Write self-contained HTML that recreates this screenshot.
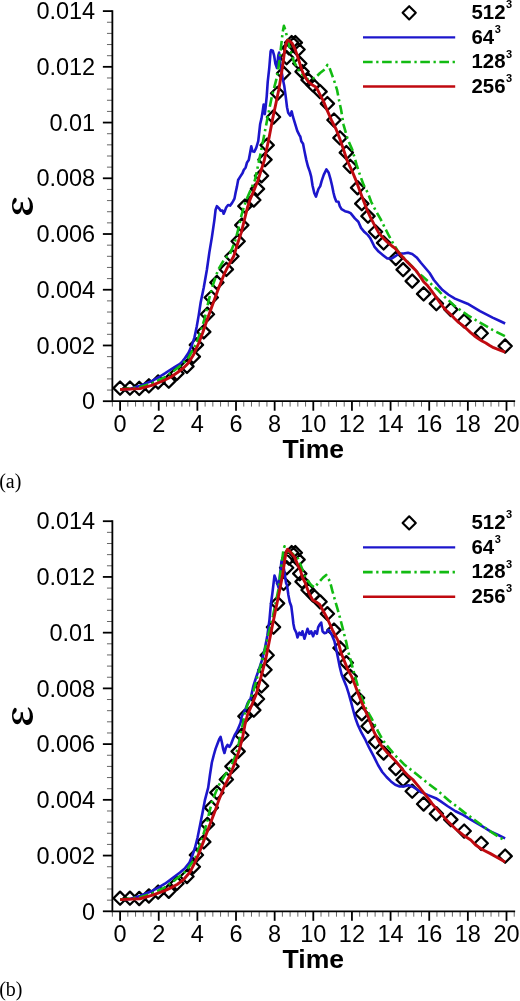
<!DOCTYPE html>
<html><head><meta charset="utf-8"><style>
html,body{margin:0;padding:0;background:#fff;}
body{width:520px;height:1001px;overflow:hidden;position:relative;}
svg{position:absolute;left:0;top:0;}
.tl{font-family:"Liberation Sans",Arial,sans-serif;font-size:23.5px;fill:#000;}
.ax{font-family:"Liberation Sans",Arial,sans-serif;font-size:26.6px;font-weight:bold;fill:#000;}
.lg{font-family:"Liberation Sans",Arial,sans-serif;font-size:20.4px;font-weight:bold;fill:#000;}
.sup{font-size:11px;}
.eps{font-family:"Noto Serif CJK SC","Liberation Serif",serif;font-size:39px;font-weight:bold;fill:#000;}
.pl{font-family:"Liberation Serif","DejaVu Serif",serif;font-size:20px;fill:#000;}
</style></head><body>
<svg width="520" height="1001" viewBox="0 0 520 1001">
<path d="M120.10,381.50L126.70,388.10L120.10,394.70L113.50,388.10ZM129.95,381.50L136.55,388.10L129.95,394.70L123.35,388.10ZM139.23,381.78L145.83,388.38L139.23,394.98L132.63,388.38ZM148.89,379.27L155.49,385.87L148.89,392.47L142.29,385.87ZM158.16,375.37L164.76,381.97L158.16,388.57L151.56,381.97ZM168.79,374.54L175.39,381.14L168.79,387.74L162.19,381.14ZM176.90,366.74L183.50,373.34L176.90,379.94L170.30,373.34ZM186.95,359.77L193.55,366.37L186.95,372.97L180.35,366.37ZM193.32,350.02L199.92,356.62L193.32,363.22L186.72,356.62ZM196.41,338.31L203.01,344.91L196.41,351.51L189.81,344.91ZM203.76,325.22L210.36,331.82L203.76,338.42L197.16,331.82ZM207.43,307.66L214.03,314.26L207.43,320.86L200.83,314.26ZM211.29,290.95L217.89,297.55L211.29,304.15L204.69,297.55ZM216.89,275.90L223.49,282.50L216.89,289.10L210.29,282.50ZM226.36,262.80L232.96,269.40L226.36,276.00L219.76,269.40ZM231.96,249.71L238.56,256.31L231.96,262.91L225.36,256.31ZM238.15,234.66L244.75,241.26L238.15,247.86L231.55,241.26ZM241.82,218.50L248.42,225.10L241.82,231.70L235.22,225.10ZM244.91,199.55L251.51,206.15L244.91,212.75L238.31,206.15ZM253.79,193.42L260.39,200.02L253.79,206.62L247.19,200.02ZM257.47,182.28L264.07,188.88L257.47,195.48L250.87,188.88ZM261.52,169.18L268.12,175.78L261.52,182.38L254.92,175.78ZM265.00,153.02L271.60,159.62L265.00,166.22L258.40,159.62ZM267.13,138.53L273.73,145.13L267.13,151.73L260.53,145.13ZM273.50,110.39L280.10,116.99L273.50,123.59L266.90,116.99ZM277.56,86.70L284.16,93.30L277.56,99.90L270.96,93.30ZM283.55,66.64L290.15,73.24L283.55,79.84L276.95,73.24ZM286.64,51.04L293.24,57.64L286.64,64.24L280.04,57.64ZM288.96,41.28L295.56,47.88L288.96,54.48L282.36,47.88ZM291.66,35.99L298.26,42.59L291.66,49.19L285.06,42.59ZM295.33,35.99L301.93,42.59L295.33,49.19L288.73,42.59ZM298.04,42.96L304.64,49.56L298.04,56.16L291.44,49.56ZM299.78,56.89L306.38,63.49L299.78,70.09L293.18,63.49ZM302.09,64.97L308.69,71.57L302.09,78.17L295.49,71.57ZM308.08,73.33L314.68,79.93L308.08,86.53L301.48,79.93ZM312.91,78.34L319.51,84.94L312.91,91.54L306.31,84.94ZM320.06,85.03L326.66,91.63L320.06,98.23L313.46,91.63ZM327.40,97.01L334.00,103.61L327.40,110.21L320.80,103.61ZM333.97,113.45L340.57,120.05L333.97,126.65L327.37,120.05ZM339.96,131.29L346.56,137.89L339.96,144.49L333.36,137.89ZM346.34,146.05L352.94,152.65L346.34,159.25L339.74,152.65ZM350.20,159.71L356.80,166.31L350.20,172.91L343.60,166.31ZM357.54,181.16L364.14,187.76L357.54,194.36L350.94,187.76ZM361.79,197.04L368.39,203.64L361.79,210.24L355.19,203.64ZM367.98,209.58L374.58,216.18L367.98,222.78L361.38,216.18ZM375.51,225.19L382.11,231.79L375.51,238.39L368.91,231.79ZM383.62,236.33L390.22,242.93L383.62,249.53L377.02,242.93ZM395.80,251.94L402.40,258.54L395.80,265.14L389.20,258.54ZM403.14,263.08L409.74,269.68L403.14,276.28L396.54,269.68ZM412.22,274.51L418.82,281.11L412.22,287.71L405.62,281.11ZM423.62,287.32L430.22,293.92L423.62,300.52L417.02,293.92ZM436.37,297.08L442.97,303.68L436.37,310.28L429.77,303.68ZM450.86,302.93L457.46,309.53L450.86,316.13L444.26,309.53ZM464.19,314.35L470.79,320.95L464.19,327.55L457.59,320.95ZM481.19,326.61L487.79,333.21L481.19,339.81L474.59,333.21ZM505.15,339.43L511.75,346.03L505.15,352.63L498.55,346.03Z" fill="none" stroke="#000" stroke-width="2.3" stroke-linejoin="round"/>
<polyline points="120.10,389.50 129.76,388.94 140.00,385.87 152.56,380.58 158.74,377.24 164.92,373.34 169.95,369.99 174.97,366.93 179.99,363.86 182.50,361.35 185.02,358.01 188.69,352.44 191.97,344.91 194.48,337.39 196.80,326.25 198.73,315.10 200.66,302.56 203.76,287.51 206.85,269.96 209.36,252.41 211.87,237.36 214.38,220.08 215.54,210.05 216.89,206.15 218.83,208.10 220.56,210.61 222.50,210.61 223.66,213.68 225.01,210.61 226.17,207.55 228.10,205.04 230.03,205.59 231.96,203.09 233.12,201.14 234.47,198.63 235.63,192.50 236.99,186.37 238.15,179.96 240.08,176.89 242.59,172.99 243.75,169.93 245.68,167.42 247.03,162.41 248.77,159.90 249.93,153.77 251.28,146.24 252.44,151.26 254.37,151.82 256.31,147.64 258.24,141.23 260.17,123.95 261.52,118.38 262.87,110.02 263.65,104.45 264.81,114.20 265.77,105.84 266.74,96.09 267.70,82.16 269.25,68.23 270.60,51.51 271.18,50.11 272.73,50.67 274.08,55.41 275.43,63.77 276.98,67.95 278.33,55.41 279.10,52.62 280.46,63.77 282.58,77.70 284.32,86.34 285.67,96.09 287.02,107.23 288.18,112.81 290.12,115.59 291.66,111.41 293.01,116.99 295.14,123.95 297.26,130.92 299.39,135.10 300.36,136.77 301.32,141.23 303.06,143.74 304.22,149.87 306.15,159.34 307.89,166.31 309.82,171.60 311.17,176.62 312.53,185.53 314.27,193.06 316.00,196.68 317.36,192.22 318.52,188.88 320.26,186.09 321.61,181.07 323.73,174.94 326.44,169.37 328.56,172.44 330.30,178.29 332.04,185.53 333.39,192.22 334.55,196.96 336.29,201.42 338.42,201.69 339.77,206.15 341.51,209.22 344.98,211.17 348.08,212.00 350.59,213.12 354.84,218.41 358.32,221.76 361.02,227.89 364.50,232.07 367.98,235.13 370.10,237.92 374.35,246.55 378.60,251.57 383.05,255.19 387.30,258.54 391.55,258.54 395.02,256.31 399.27,253.52 403.72,253.52 407.97,252.68 412.22,254.08 416.66,257.42 420.91,262.72 425.36,268.01 429.61,273.03 433.86,279.99 438.30,285.29 442.55,290.02 448.54,294.76 454.92,298.66 467.47,303.68 480.03,311.20 492.59,317.61 499.93,320.95 505.15,323.46" fill="none" stroke="#1c16cc" stroke-width="2.6" stroke-linejoin="round"/>
<polyline points="120.10,389.50 139.42,387.27 151.98,383.37 163.96,377.79 172.46,371.94 181.34,364.98 188.69,357.45 196.22,343.80 201.24,329.87 204.91,317.61 208.78,300.05 212.45,286.40 218.05,269.96 223.85,259.93 230.03,253.80 235.05,241.26 238.72,227.61 241.24,216.18 243.75,207.55 246.26,200.02 254.95,179.96 259.40,159.06 263.65,137.89 267.70,116.99 271.96,96.09 276.21,79.93 278.14,69.90 279.49,60.14 280.65,50.11 281.81,40.08 282.58,32.56 283.93,25.87 285.67,31.17 287.22,37.57 290.12,50.11 293.79,61.26 299.97,72.40 307.50,79.37 315.04,77.98 320.06,72.96 325.09,69.06 327.40,64.88 329.53,67.95 332.04,74.91 334.94,82.99 337.06,89.96 339.00,99.99 341.12,110.02 343.63,125.07 347.50,138.72 352.33,149.87 356.58,164.63 360.05,175.22 363.53,184.70 367.98,193.33 371.26,201.97 375.70,210.61 380.34,218.69 384.78,227.61 389.03,235.97 393.48,244.05 397.34,250.18 402.17,256.31 407.97,262.16 413.76,268.29 418.59,273.58 422.65,276.37 431.35,284.17 438.30,290.30 442.55,295.04 448.54,300.33 454.92,306.18 467.47,315.10 480.03,322.62 492.59,329.87 505.15,336.28" fill="none" stroke="#12bb12" stroke-width="2.6" stroke-dasharray="9.6,3.6,2.3,3.6" stroke-linejoin="round"/>
<polyline points="120.10,389.50 140.00,388.66 152.56,385.04 164.92,380.02 171.30,376.68 177.48,372.50 183.66,367.76 187.53,363.86 190.62,359.40 193.71,354.39 196.41,348.26 198.73,343.24 202.60,332.93 207.43,319.00 212.45,305.07 217.47,291.14 223.85,274.98 228.68,264.95 233.70,256.31 237.57,243.77 241.24,232.62 244.33,220.08 247.42,207.55 249.93,200.02 254.37,189.43 258.24,179.68 264.23,160.46 268.48,140.67 272.73,118.38 276.59,100.27 278.72,89.96 281.23,74.91 283.16,62.37 284.51,51.51 285.87,44.54 287.41,40.36 289.73,41.20 292.05,43.15 294.95,49.00 297.46,55.97 299.97,64.05 302.48,71.85 304.22,75.47 308.08,81.60 311.95,84.66 315.81,86.89 318.13,90.80 320.45,95.53 323.54,101.38 326.44,108.63 331.46,120.05 336.10,129.25 339.96,139.28 343.83,150.42 347.11,160.46 352.33,171.60 356.58,181.91 360.05,191.38 363.53,200.86 367.01,209.77 370.49,217.30 374.35,224.82 378.60,232.62 383.05,237.92 387.30,242.10 391.55,245.72 395.02,248.23 399.27,253.24 403.72,258.26 407.97,262.72 412.22,266.90 415.89,270.52 419.95,276.09 423.42,281.38 427.67,285.84 431.54,290.86 435.40,296.15 439.27,301.73 443.13,307.02 446.99,311.20 450.86,314.54 454.53,318.44 458.59,322.34 462.64,325.41 466.51,328.75 470.37,332.38 474.24,335.72 478.10,338.51 481.96,341.01 485.83,342.96 489.69,345.47 493.56,347.70 499.93,350.21 505.15,352.16" fill="none" stroke="#c00a10" stroke-width="2.9" stroke-linejoin="round"/>
<line x1="102.87" y1="401.20" x2="112.37" y2="401.20" stroke="#000" stroke-width="1.8"/>
<line x1="106.97" y1="390.05" x2="112.37" y2="390.05" stroke="#555" stroke-width="0.9"/>
<line x1="106.97" y1="378.91" x2="112.37" y2="378.91" stroke="#555" stroke-width="0.9"/>
<line x1="106.97" y1="367.76" x2="112.37" y2="367.76" stroke="#555" stroke-width="0.9"/>
<line x1="106.97" y1="356.62" x2="112.37" y2="356.62" stroke="#555" stroke-width="0.9"/>
<line x1="102.87" y1="345.47" x2="112.37" y2="345.47" stroke="#000" stroke-width="1.8"/>
<line x1="106.97" y1="334.33" x2="112.37" y2="334.33" stroke="#555" stroke-width="0.9"/>
<line x1="106.97" y1="323.18" x2="112.37" y2="323.18" stroke="#555" stroke-width="0.9"/>
<line x1="106.97" y1="312.04" x2="112.37" y2="312.04" stroke="#555" stroke-width="0.9"/>
<line x1="106.97" y1="300.89" x2="112.37" y2="300.89" stroke="#555" stroke-width="0.9"/>
<line x1="102.87" y1="289.74" x2="112.37" y2="289.74" stroke="#000" stroke-width="1.8"/>
<line x1="106.97" y1="278.60" x2="112.37" y2="278.60" stroke="#555" stroke-width="0.9"/>
<line x1="106.97" y1="267.45" x2="112.37" y2="267.45" stroke="#555" stroke-width="0.9"/>
<line x1="106.97" y1="256.31" x2="112.37" y2="256.31" stroke="#555" stroke-width="0.9"/>
<line x1="106.97" y1="245.16" x2="112.37" y2="245.16" stroke="#555" stroke-width="0.9"/>
<line x1="102.87" y1="234.02" x2="112.37" y2="234.02" stroke="#000" stroke-width="1.8"/>
<line x1="106.97" y1="222.87" x2="112.37" y2="222.87" stroke="#555" stroke-width="0.9"/>
<line x1="106.97" y1="211.72" x2="112.37" y2="211.72" stroke="#555" stroke-width="0.9"/>
<line x1="106.97" y1="200.58" x2="112.37" y2="200.58" stroke="#555" stroke-width="0.9"/>
<line x1="106.97" y1="189.43" x2="112.37" y2="189.43" stroke="#555" stroke-width="0.9"/>
<line x1="102.87" y1="178.29" x2="112.37" y2="178.29" stroke="#000" stroke-width="1.8"/>
<line x1="106.97" y1="167.14" x2="112.37" y2="167.14" stroke="#555" stroke-width="0.9"/>
<line x1="106.97" y1="156.00" x2="112.37" y2="156.00" stroke="#555" stroke-width="0.9"/>
<line x1="106.97" y1="144.85" x2="112.37" y2="144.85" stroke="#555" stroke-width="0.9"/>
<line x1="106.97" y1="133.71" x2="112.37" y2="133.71" stroke="#555" stroke-width="0.9"/>
<line x1="102.87" y1="122.56" x2="112.37" y2="122.56" stroke="#000" stroke-width="1.8"/>
<line x1="106.97" y1="111.41" x2="112.37" y2="111.41" stroke="#555" stroke-width="0.9"/>
<line x1="106.97" y1="100.27" x2="112.37" y2="100.27" stroke="#555" stroke-width="0.9"/>
<line x1="106.97" y1="89.12" x2="112.37" y2="89.12" stroke="#555" stroke-width="0.9"/>
<line x1="106.97" y1="77.98" x2="112.37" y2="77.98" stroke="#555" stroke-width="0.9"/>
<line x1="102.87" y1="66.83" x2="112.37" y2="66.83" stroke="#000" stroke-width="1.8"/>
<line x1="106.97" y1="55.69" x2="112.37" y2="55.69" stroke="#555" stroke-width="0.9"/>
<line x1="106.97" y1="44.54" x2="112.37" y2="44.54" stroke="#555" stroke-width="0.9"/>
<line x1="106.97" y1="33.40" x2="112.37" y2="33.40" stroke="#555" stroke-width="0.9"/>
<line x1="106.97" y1="22.25" x2="112.37" y2="22.25" stroke="#555" stroke-width="0.9"/>
<line x1="102.87" y1="11.10" x2="112.37" y2="11.10" stroke="#000" stroke-width="1.8"/>
<line x1="112.37" y1="401.20" x2="112.37" y2="406.60" stroke="#555" stroke-width="0.9"/>
<line x1="120.10" y1="401.20" x2="120.10" y2="410.70" stroke="#000" stroke-width="1.8"/>
<line x1="127.83" y1="401.20" x2="127.83" y2="406.60" stroke="#555" stroke-width="0.9"/>
<line x1="135.56" y1="401.20" x2="135.56" y2="406.60" stroke="#555" stroke-width="0.9"/>
<line x1="143.28" y1="401.20" x2="143.28" y2="406.60" stroke="#555" stroke-width="0.9"/>
<line x1="151.01" y1="401.20" x2="151.01" y2="406.60" stroke="#555" stroke-width="0.9"/>
<line x1="158.74" y1="401.20" x2="158.74" y2="410.70" stroke="#000" stroke-width="1.8"/>
<line x1="166.47" y1="401.20" x2="166.47" y2="406.60" stroke="#555" stroke-width="0.9"/>
<line x1="174.20" y1="401.20" x2="174.20" y2="406.60" stroke="#555" stroke-width="0.9"/>
<line x1="181.92" y1="401.20" x2="181.92" y2="406.60" stroke="#555" stroke-width="0.9"/>
<line x1="189.65" y1="401.20" x2="189.65" y2="406.60" stroke="#555" stroke-width="0.9"/>
<line x1="197.38" y1="401.20" x2="197.38" y2="410.70" stroke="#000" stroke-width="1.8"/>
<line x1="205.11" y1="401.20" x2="205.11" y2="406.60" stroke="#555" stroke-width="0.9"/>
<line x1="212.84" y1="401.20" x2="212.84" y2="406.60" stroke="#555" stroke-width="0.9"/>
<line x1="220.56" y1="401.20" x2="220.56" y2="406.60" stroke="#555" stroke-width="0.9"/>
<line x1="228.29" y1="401.20" x2="228.29" y2="406.60" stroke="#555" stroke-width="0.9"/>
<line x1="236.02" y1="401.20" x2="236.02" y2="410.70" stroke="#000" stroke-width="1.8"/>
<line x1="243.75" y1="401.20" x2="243.75" y2="406.60" stroke="#555" stroke-width="0.9"/>
<line x1="251.48" y1="401.20" x2="251.48" y2="406.60" stroke="#555" stroke-width="0.9"/>
<line x1="259.20" y1="401.20" x2="259.20" y2="406.60" stroke="#555" stroke-width="0.9"/>
<line x1="266.93" y1="401.20" x2="266.93" y2="406.60" stroke="#555" stroke-width="0.9"/>
<line x1="274.66" y1="401.20" x2="274.66" y2="410.70" stroke="#000" stroke-width="1.8"/>
<line x1="282.39" y1="401.20" x2="282.39" y2="406.60" stroke="#555" stroke-width="0.9"/>
<line x1="290.12" y1="401.20" x2="290.12" y2="406.60" stroke="#555" stroke-width="0.9"/>
<line x1="297.84" y1="401.20" x2="297.84" y2="406.60" stroke="#555" stroke-width="0.9"/>
<line x1="305.57" y1="401.20" x2="305.57" y2="406.60" stroke="#555" stroke-width="0.9"/>
<line x1="313.30" y1="401.20" x2="313.30" y2="410.70" stroke="#000" stroke-width="1.8"/>
<line x1="321.03" y1="401.20" x2="321.03" y2="406.60" stroke="#555" stroke-width="0.9"/>
<line x1="328.76" y1="401.20" x2="328.76" y2="406.60" stroke="#555" stroke-width="0.9"/>
<line x1="336.48" y1="401.20" x2="336.48" y2="406.60" stroke="#555" stroke-width="0.9"/>
<line x1="344.21" y1="401.20" x2="344.21" y2="406.60" stroke="#555" stroke-width="0.9"/>
<line x1="351.94" y1="401.20" x2="351.94" y2="410.70" stroke="#000" stroke-width="1.8"/>
<line x1="359.67" y1="401.20" x2="359.67" y2="406.60" stroke="#555" stroke-width="0.9"/>
<line x1="367.40" y1="401.20" x2="367.40" y2="406.60" stroke="#555" stroke-width="0.9"/>
<line x1="375.12" y1="401.20" x2="375.12" y2="406.60" stroke="#555" stroke-width="0.9"/>
<line x1="382.85" y1="401.20" x2="382.85" y2="406.60" stroke="#555" stroke-width="0.9"/>
<line x1="390.58" y1="401.20" x2="390.58" y2="410.70" stroke="#000" stroke-width="1.8"/>
<line x1="398.31" y1="401.20" x2="398.31" y2="406.60" stroke="#555" stroke-width="0.9"/>
<line x1="406.04" y1="401.20" x2="406.04" y2="406.60" stroke="#555" stroke-width="0.9"/>
<line x1="413.76" y1="401.20" x2="413.76" y2="406.60" stroke="#555" stroke-width="0.9"/>
<line x1="421.49" y1="401.20" x2="421.49" y2="406.60" stroke="#555" stroke-width="0.9"/>
<line x1="429.22" y1="401.20" x2="429.22" y2="410.70" stroke="#000" stroke-width="1.8"/>
<line x1="436.95" y1="401.20" x2="436.95" y2="406.60" stroke="#555" stroke-width="0.9"/>
<line x1="444.68" y1="401.20" x2="444.68" y2="406.60" stroke="#555" stroke-width="0.9"/>
<line x1="452.40" y1="401.20" x2="452.40" y2="406.60" stroke="#555" stroke-width="0.9"/>
<line x1="460.13" y1="401.20" x2="460.13" y2="406.60" stroke="#555" stroke-width="0.9"/>
<line x1="467.86" y1="401.20" x2="467.86" y2="410.70" stroke="#000" stroke-width="1.8"/>
<line x1="475.59" y1="401.20" x2="475.59" y2="406.60" stroke="#555" stroke-width="0.9"/>
<line x1="483.32" y1="401.20" x2="483.32" y2="406.60" stroke="#555" stroke-width="0.9"/>
<line x1="491.04" y1="401.20" x2="491.04" y2="406.60" stroke="#555" stroke-width="0.9"/>
<line x1="498.77" y1="401.20" x2="498.77" y2="406.60" stroke="#555" stroke-width="0.9"/>
<line x1="506.50" y1="401.20" x2="506.50" y2="410.70" stroke="#000" stroke-width="1.8"/>
<line x1="514.23" y1="401.20" x2="514.23" y2="406.60" stroke="#555" stroke-width="0.9"/>
<path d="M112.37,11.10V401.20H514.23" fill="none" stroke="#000" stroke-width="1.8" stroke-linecap="square"/>
<text x="95.2" y="409.40" class="tl" text-anchor="end">0</text>
<text x="95.2" y="353.67" class="tl" text-anchor="end">0.002</text>
<text x="95.2" y="297.94" class="tl" text-anchor="end">0.004</text>
<text x="95.2" y="242.22" class="tl" text-anchor="end">0.006</text>
<text x="95.2" y="186.49" class="tl" text-anchor="end">0.008</text>
<text x="95.2" y="130.76" class="tl" text-anchor="end">0.01</text>
<text x="95.2" y="75.03" class="tl" text-anchor="end">0.012</text>
<text x="95.2" y="19.30" class="tl" text-anchor="end">0.014</text>
<text x="120.10" y="431.80" class="tl" text-anchor="middle">0</text>
<text x="158.74" y="431.80" class="tl" text-anchor="middle">2</text>
<text x="197.38" y="431.80" class="tl" text-anchor="middle">4</text>
<text x="236.02" y="431.80" class="tl" text-anchor="middle">6</text>
<text x="274.66" y="431.80" class="tl" text-anchor="middle">8</text>
<text x="313.30" y="431.80" class="tl" text-anchor="middle">10</text>
<text x="351.94" y="431.80" class="tl" text-anchor="middle">12</text>
<text x="390.58" y="431.80" class="tl" text-anchor="middle">14</text>
<text x="429.22" y="431.80" class="tl" text-anchor="middle">16</text>
<text x="467.86" y="431.80" class="tl" text-anchor="middle">18</text>
<text x="506.50" y="431.80" class="tl" text-anchor="middle">20</text>
<text x="313.3" y="457.60" class="ax" text-anchor="middle">Time</text>
<text x="0" y="0" class="eps" text-anchor="middle" transform="translate(32.6,206.25) rotate(-90)">&#949;</text>
<text x="471.5" y="18.75" class="lg">512<tspan class="sup" dx="0.5" dy="-10.5">3</tspan></text>
<text x="471.5" y="43.60" class="lg">64<tspan class="sup" dx="0.5" dy="-10.5">3</tspan></text>
<text x="471.5" y="68.10" class="lg">128<tspan class="sup" dx="0.5" dy="-10.5">3</tspan></text>
<text x="471.5" y="92.60" class="lg">256<tspan class="sup" dx="0.5" dy="-10.5">3</tspan></text>
<path d="M409.20,6.20L415.80,12.80L409.20,19.40L402.60,12.80Z" fill="none" stroke="#000" stroke-width="2.1" stroke-linejoin="round"/>
<line x1="363" y1="37.30" x2="455.2" y2="37.30" stroke="#1c16cc" stroke-width="2.3"/>
<line x1="363" y1="62.00" x2="455.2" y2="62.00" stroke="#12bb12" stroke-width="2.6" stroke-dasharray="9.6,3.6,2.3,3.6"/>
<line x1="363" y1="86.60" x2="455.2" y2="86.60" stroke="#c00a10" stroke-width="2.5"/>
<path d="M120.10,891.60L126.70,898.20L120.10,904.80L113.50,898.20ZM129.95,891.60L136.55,898.20L129.95,904.80L123.35,898.20ZM139.23,891.88L145.83,898.48L139.23,905.08L132.63,898.48ZM148.89,889.37L155.49,895.97L148.89,902.57L142.29,895.97ZM158.16,885.47L164.76,892.07L158.16,898.67L151.56,892.07ZM168.79,884.64L175.39,891.24L168.79,897.84L162.19,891.24ZM176.90,876.84L183.50,883.44L176.90,890.04L170.30,883.44ZM186.95,869.87L193.55,876.47L186.95,883.07L180.35,876.47ZM193.32,860.12L199.92,866.72L193.32,873.32L186.72,866.72ZM196.41,848.41L203.01,855.01L196.41,861.61L189.81,855.01ZM203.76,835.32L210.36,841.92L203.76,848.52L197.16,841.92ZM207.43,817.76L214.03,824.36L207.43,830.96L200.83,824.36ZM211.29,801.05L217.89,807.65L211.29,814.25L204.69,807.65ZM216.89,786.00L223.49,792.60L216.89,799.20L210.29,792.60ZM226.36,772.90L232.96,779.50L226.36,786.10L219.76,779.50ZM231.96,759.81L238.56,766.41L231.96,773.01L225.36,766.41ZM238.15,744.76L244.75,751.36L238.15,757.96L231.55,751.36ZM241.82,728.60L248.42,735.20L241.82,741.80L235.22,735.20ZM244.91,709.65L251.51,716.25L244.91,722.85L238.31,716.25ZM253.79,703.52L260.39,710.12L253.79,716.72L247.19,710.12ZM257.47,692.38L264.07,698.98L257.47,705.58L250.87,698.98ZM261.52,679.28L268.12,685.88L261.52,692.48L254.92,685.88ZM265.00,663.12L271.60,669.72L265.00,676.32L258.40,669.72ZM267.13,648.63L273.73,655.23L267.13,661.83L260.53,655.23ZM273.50,620.49L280.10,627.09L273.50,633.69L266.90,627.09ZM277.56,596.80L284.16,603.40L277.56,610.00L270.96,603.40ZM283.55,576.74L290.15,583.34L283.55,589.94L276.95,583.34ZM286.64,561.14L293.24,567.74L286.64,574.34L280.04,567.74ZM288.96,551.38L295.56,557.98L288.96,564.58L282.36,557.98ZM291.66,546.09L298.26,552.69L291.66,559.29L285.06,552.69ZM295.33,546.09L301.93,552.69L295.33,559.29L288.73,552.69ZM298.04,553.06L304.64,559.66L298.04,566.26L291.44,559.66ZM299.78,566.99L306.38,573.59L299.78,580.19L293.18,573.59ZM302.09,575.07L308.69,581.67L302.09,588.27L295.49,581.67ZM308.08,583.43L314.68,590.03L308.08,596.63L301.48,590.03ZM312.91,588.44L319.51,595.04L312.91,601.64L306.31,595.04ZM320.06,595.13L326.66,601.73L320.06,608.33L313.46,601.73ZM327.40,607.11L334.00,613.71L327.40,620.31L320.80,613.71ZM333.97,623.55L340.57,630.15L333.97,636.75L327.37,630.15ZM339.96,641.39L346.56,647.99L339.96,654.59L333.36,647.99ZM346.34,656.15L352.94,662.75L346.34,669.35L339.74,662.75ZM350.20,669.81L356.80,676.41L350.20,683.01L343.60,676.41ZM357.54,691.26L364.14,697.86L357.54,704.46L350.94,697.86ZM361.79,707.14L368.39,713.74L361.79,720.34L355.19,713.74ZM367.98,719.68L374.58,726.28L367.98,732.88L361.38,726.28ZM375.51,735.29L382.11,741.89L375.51,748.49L368.91,741.89ZM383.62,746.43L390.22,753.03L383.62,759.63L377.02,753.03ZM395.80,762.04L402.40,768.64L395.80,775.24L389.20,768.64ZM403.14,773.18L409.74,779.78L403.14,786.38L396.54,779.78ZM412.22,784.61L418.82,791.21L412.22,797.81L405.62,791.21ZM423.62,797.42L430.22,804.02L423.62,810.62L417.02,804.02ZM436.37,807.18L442.97,813.78L436.37,820.38L429.77,813.78ZM450.86,813.03L457.46,819.63L450.86,826.23L444.26,819.63ZM464.19,824.45L470.79,831.05L464.19,837.65L457.59,831.05ZM481.19,836.71L487.79,843.31L481.19,849.91L474.59,843.31ZM505.15,849.53L511.75,856.13L505.15,862.73L498.55,856.13Z" fill="none" stroke="#000" stroke-width="2.3" stroke-linejoin="round"/>
<polyline points="120.10,899.60 129.76,899.04 140.00,895.97 152.56,890.68 158.74,887.34 164.92,883.71 169.95,880.09 174.97,876.19 179.99,872.57 185.02,868.11 189.46,862.54 192.55,855.01 195.06,847.49 197.57,837.46 200.08,824.92 202.60,812.38 204.91,800.12 208.20,787.58 209.94,775.05 211.87,762.51 213.80,754.98 215.54,748.85 217.47,743.84 219.40,738.82 220.56,736.87 221.92,742.44 223.08,748.85 224.43,753.03 225.97,747.46 227.52,744.95 229.45,746.90 231.19,743.84 233.12,738.82 235.05,734.36 236.99,731.30 238.72,727.40 240.66,722.38 241.82,716.25 243.75,712.63 245.68,708.73 247.42,703.71 249.35,700.09 250.51,698.98 253.41,685.88 256.11,677.52 259.01,669.16 261.72,660.80 264.61,649.66 267.32,635.73 269.44,620.12 270.80,604.80 272.34,593.65 274.47,575.54 276.59,581.11 278.72,588.08 280.07,574.15 281.42,561.61 282.39,558.54 284.32,571.36 286.06,583.06 287.02,585.29 288.38,595.04 289.73,602.01 291.28,606.19 292.43,615.11 293.40,623.74 294.37,628.76 296.30,632.66 297.46,637.40 299.39,632.66 301.32,634.89 302.48,631.27 304.41,638.79 306.34,632.66 307.50,628.76 309.44,633.77 311.17,631.27 313.11,636.28 315.04,631.27 316.97,633.77 318.13,627.37 319.29,625.14 321.22,622.63 322.57,631.27 324.31,633.22 326.24,632.66 328.18,629.87 329.92,631.27 331.85,634.89 333.20,638.23 334.36,641.02 336.10,648.82 337.84,657.18 339.58,666.10 341.70,674.73 344.41,681.42 346.34,686.16 348.66,693.40 351.17,702.32 353.49,711.24 355.42,718.20 357.74,724.61 361.60,732.97 365.46,739.94 369.13,747.74 373.77,756.38 378.02,765.01 382.27,771.98 386.52,777.00 390.97,781.45 395.22,784.80 399.66,786.47 403.91,786.47 408.35,785.35 412.80,786.75 420.33,791.76 428.06,795.11 435.79,798.17 440.04,800.96 447.77,806.25 455.50,811.27 463.03,814.89 470.76,819.63 478.49,824.09 482.74,826.59 490.46,831.33 498.19,834.95 505.15,838.30" fill="none" stroke="#1c16cc" stroke-width="2.6" stroke-linejoin="round"/>
<polyline points="120.10,899.60 139.42,897.37 151.98,893.47 163.96,887.89 174.97,880.09 185.02,872.01 195.06,858.64 201.24,841.36 206.27,824.92 209.94,809.88 212.45,800.12 218.83,785.08 225.01,775.05 231.19,766.13 236.21,753.87 238.72,743.84 241.24,731.30 243.17,722.38 244.91,712.63 247.42,705.11 253.41,691.17 257.27,677.24 263.26,656.34 272.92,615.94 278.72,588.08 280.26,573.59 281.42,566.90 282.00,561.05 283.35,550.46 284.51,546.28 286.25,550.46 292.05,553.25 298.42,559.10 304.99,576.37 308.08,581.11 311.17,585.01 314.46,587.52 318.71,582.50 323.15,577.49 326.24,574.98 329.92,581.39 332.43,591.14 334.94,600.06 337.45,608.70 339.96,617.61 342.47,627.37 344.98,637.40 346.34,642.41 348.08,651.33 349.81,657.18 354.26,673.62 359.47,692.01 366.24,709.29 371.45,718.20 374.54,724.33 378.02,731.30 382.27,739.10 386.52,745.23 390.97,750.25 395.22,755.54 399.66,759.72 403.91,764.18 409.13,768.36 412.80,771.14 420.33,777.27 428.06,783.40 435.79,789.26 442.74,795.11 449.12,800.68 456.85,806.53 464.19,812.38 471.92,817.96 475.59,820.74 486.60,828.82 498.19,836.62 505.15,840.53" fill="none" stroke="#12bb12" stroke-width="2.6" stroke-dasharray="9.6,3.6,2.3,3.6" stroke-linejoin="round"/>
<polyline points="120.10,899.60 140.00,898.76 152.56,895.14 164.92,890.68 171.30,887.62 177.48,884.27 183.66,879.54 189.85,872.29 194.87,862.54 198.73,853.90 202.60,843.87 208.78,827.43 214.96,811.27 218.83,800.12 223.85,787.58 230.03,775.05 235.05,762.51 239.30,749.97 242.59,737.43 244.91,724.89 247.42,715.14 251.28,706.22 256.31,693.96 260.17,680.03 265.97,658.02 272.92,622.91 278.72,595.04 282.77,574.15 284.90,559.10 286.25,551.85 287.41,549.35 290.70,552.41 294.56,557.15 298.42,566.62 300.36,569.97 302.29,577.21 304.99,582.23 308.86,593.09 312.72,600.06 316.58,602.29 319.68,604.52 323.54,611.48 327.40,618.73 332.43,629.87 337.84,640.46 341.12,653.00 344.60,661.64 348.08,670.28 351.55,676.41 355.03,685.04 358.51,694.52 361.99,703.16 365.46,710.96 368.94,718.76 373.77,731.30 378.02,739.94 382.27,746.90 386.52,751.92 390.97,756.38 395.22,760.83 399.66,765.85 403.91,771.14 408.35,775.88 412.80,779.50 420.33,788.70 428.06,798.17 431.92,803.47 440.04,812.66 447.77,821.30 455.50,828.82 463.03,834.95 470.76,839.97 475.59,844.98 482.74,849.72 490.46,853.62 498.19,858.08 505.15,861.98" fill="none" stroke="#c00a10" stroke-width="2.9" stroke-linejoin="round"/>
<line x1="102.87" y1="911.30" x2="112.37" y2="911.30" stroke="#000" stroke-width="1.8"/>
<line x1="106.97" y1="900.15" x2="112.37" y2="900.15" stroke="#555" stroke-width="0.9"/>
<line x1="106.97" y1="889.01" x2="112.37" y2="889.01" stroke="#555" stroke-width="0.9"/>
<line x1="106.97" y1="877.86" x2="112.37" y2="877.86" stroke="#555" stroke-width="0.9"/>
<line x1="106.97" y1="866.72" x2="112.37" y2="866.72" stroke="#555" stroke-width="0.9"/>
<line x1="102.87" y1="855.57" x2="112.37" y2="855.57" stroke="#000" stroke-width="1.8"/>
<line x1="106.97" y1="844.43" x2="112.37" y2="844.43" stroke="#555" stroke-width="0.9"/>
<line x1="106.97" y1="833.28" x2="112.37" y2="833.28" stroke="#555" stroke-width="0.9"/>
<line x1="106.97" y1="822.14" x2="112.37" y2="822.14" stroke="#555" stroke-width="0.9"/>
<line x1="106.97" y1="810.99" x2="112.37" y2="810.99" stroke="#555" stroke-width="0.9"/>
<line x1="102.87" y1="799.84" x2="112.37" y2="799.84" stroke="#000" stroke-width="1.8"/>
<line x1="106.97" y1="788.70" x2="112.37" y2="788.70" stroke="#555" stroke-width="0.9"/>
<line x1="106.97" y1="777.55" x2="112.37" y2="777.55" stroke="#555" stroke-width="0.9"/>
<line x1="106.97" y1="766.41" x2="112.37" y2="766.41" stroke="#555" stroke-width="0.9"/>
<line x1="106.97" y1="755.26" x2="112.37" y2="755.26" stroke="#555" stroke-width="0.9"/>
<line x1="102.87" y1="744.12" x2="112.37" y2="744.12" stroke="#000" stroke-width="1.8"/>
<line x1="106.97" y1="732.97" x2="112.37" y2="732.97" stroke="#555" stroke-width="0.9"/>
<line x1="106.97" y1="721.82" x2="112.37" y2="721.82" stroke="#555" stroke-width="0.9"/>
<line x1="106.97" y1="710.68" x2="112.37" y2="710.68" stroke="#555" stroke-width="0.9"/>
<line x1="106.97" y1="699.53" x2="112.37" y2="699.53" stroke="#555" stroke-width="0.9"/>
<line x1="102.87" y1="688.39" x2="112.37" y2="688.39" stroke="#000" stroke-width="1.8"/>
<line x1="106.97" y1="677.24" x2="112.37" y2="677.24" stroke="#555" stroke-width="0.9"/>
<line x1="106.97" y1="666.10" x2="112.37" y2="666.10" stroke="#555" stroke-width="0.9"/>
<line x1="106.97" y1="654.95" x2="112.37" y2="654.95" stroke="#555" stroke-width="0.9"/>
<line x1="106.97" y1="643.81" x2="112.37" y2="643.81" stroke="#555" stroke-width="0.9"/>
<line x1="102.87" y1="632.66" x2="112.37" y2="632.66" stroke="#000" stroke-width="1.8"/>
<line x1="106.97" y1="621.51" x2="112.37" y2="621.51" stroke="#555" stroke-width="0.9"/>
<line x1="106.97" y1="610.37" x2="112.37" y2="610.37" stroke="#555" stroke-width="0.9"/>
<line x1="106.97" y1="599.22" x2="112.37" y2="599.22" stroke="#555" stroke-width="0.9"/>
<line x1="106.97" y1="588.08" x2="112.37" y2="588.08" stroke="#555" stroke-width="0.9"/>
<line x1="102.87" y1="576.93" x2="112.37" y2="576.93" stroke="#000" stroke-width="1.8"/>
<line x1="106.97" y1="565.79" x2="112.37" y2="565.79" stroke="#555" stroke-width="0.9"/>
<line x1="106.97" y1="554.64" x2="112.37" y2="554.64" stroke="#555" stroke-width="0.9"/>
<line x1="106.97" y1="543.50" x2="112.37" y2="543.50" stroke="#555" stroke-width="0.9"/>
<line x1="106.97" y1="532.35" x2="112.37" y2="532.35" stroke="#555" stroke-width="0.9"/>
<line x1="102.87" y1="521.20" x2="112.37" y2="521.20" stroke="#000" stroke-width="1.8"/>
<line x1="112.37" y1="911.30" x2="112.37" y2="916.70" stroke="#555" stroke-width="0.9"/>
<line x1="120.10" y1="911.30" x2="120.10" y2="920.80" stroke="#000" stroke-width="1.8"/>
<line x1="127.83" y1="911.30" x2="127.83" y2="916.70" stroke="#555" stroke-width="0.9"/>
<line x1="135.56" y1="911.30" x2="135.56" y2="916.70" stroke="#555" stroke-width="0.9"/>
<line x1="143.28" y1="911.30" x2="143.28" y2="916.70" stroke="#555" stroke-width="0.9"/>
<line x1="151.01" y1="911.30" x2="151.01" y2="916.70" stroke="#555" stroke-width="0.9"/>
<line x1="158.74" y1="911.30" x2="158.74" y2="920.80" stroke="#000" stroke-width="1.8"/>
<line x1="166.47" y1="911.30" x2="166.47" y2="916.70" stroke="#555" stroke-width="0.9"/>
<line x1="174.20" y1="911.30" x2="174.20" y2="916.70" stroke="#555" stroke-width="0.9"/>
<line x1="181.92" y1="911.30" x2="181.92" y2="916.70" stroke="#555" stroke-width="0.9"/>
<line x1="189.65" y1="911.30" x2="189.65" y2="916.70" stroke="#555" stroke-width="0.9"/>
<line x1="197.38" y1="911.30" x2="197.38" y2="920.80" stroke="#000" stroke-width="1.8"/>
<line x1="205.11" y1="911.30" x2="205.11" y2="916.70" stroke="#555" stroke-width="0.9"/>
<line x1="212.84" y1="911.30" x2="212.84" y2="916.70" stroke="#555" stroke-width="0.9"/>
<line x1="220.56" y1="911.30" x2="220.56" y2="916.70" stroke="#555" stroke-width="0.9"/>
<line x1="228.29" y1="911.30" x2="228.29" y2="916.70" stroke="#555" stroke-width="0.9"/>
<line x1="236.02" y1="911.30" x2="236.02" y2="920.80" stroke="#000" stroke-width="1.8"/>
<line x1="243.75" y1="911.30" x2="243.75" y2="916.70" stroke="#555" stroke-width="0.9"/>
<line x1="251.48" y1="911.30" x2="251.48" y2="916.70" stroke="#555" stroke-width="0.9"/>
<line x1="259.20" y1="911.30" x2="259.20" y2="916.70" stroke="#555" stroke-width="0.9"/>
<line x1="266.93" y1="911.30" x2="266.93" y2="916.70" stroke="#555" stroke-width="0.9"/>
<line x1="274.66" y1="911.30" x2="274.66" y2="920.80" stroke="#000" stroke-width="1.8"/>
<line x1="282.39" y1="911.30" x2="282.39" y2="916.70" stroke="#555" stroke-width="0.9"/>
<line x1="290.12" y1="911.30" x2="290.12" y2="916.70" stroke="#555" stroke-width="0.9"/>
<line x1="297.84" y1="911.30" x2="297.84" y2="916.70" stroke="#555" stroke-width="0.9"/>
<line x1="305.57" y1="911.30" x2="305.57" y2="916.70" stroke="#555" stroke-width="0.9"/>
<line x1="313.30" y1="911.30" x2="313.30" y2="920.80" stroke="#000" stroke-width="1.8"/>
<line x1="321.03" y1="911.30" x2="321.03" y2="916.70" stroke="#555" stroke-width="0.9"/>
<line x1="328.76" y1="911.30" x2="328.76" y2="916.70" stroke="#555" stroke-width="0.9"/>
<line x1="336.48" y1="911.30" x2="336.48" y2="916.70" stroke="#555" stroke-width="0.9"/>
<line x1="344.21" y1="911.30" x2="344.21" y2="916.70" stroke="#555" stroke-width="0.9"/>
<line x1="351.94" y1="911.30" x2="351.94" y2="920.80" stroke="#000" stroke-width="1.8"/>
<line x1="359.67" y1="911.30" x2="359.67" y2="916.70" stroke="#555" stroke-width="0.9"/>
<line x1="367.40" y1="911.30" x2="367.40" y2="916.70" stroke="#555" stroke-width="0.9"/>
<line x1="375.12" y1="911.30" x2="375.12" y2="916.70" stroke="#555" stroke-width="0.9"/>
<line x1="382.85" y1="911.30" x2="382.85" y2="916.70" stroke="#555" stroke-width="0.9"/>
<line x1="390.58" y1="911.30" x2="390.58" y2="920.80" stroke="#000" stroke-width="1.8"/>
<line x1="398.31" y1="911.30" x2="398.31" y2="916.70" stroke="#555" stroke-width="0.9"/>
<line x1="406.04" y1="911.30" x2="406.04" y2="916.70" stroke="#555" stroke-width="0.9"/>
<line x1="413.76" y1="911.30" x2="413.76" y2="916.70" stroke="#555" stroke-width="0.9"/>
<line x1="421.49" y1="911.30" x2="421.49" y2="916.70" stroke="#555" stroke-width="0.9"/>
<line x1="429.22" y1="911.30" x2="429.22" y2="920.80" stroke="#000" stroke-width="1.8"/>
<line x1="436.95" y1="911.30" x2="436.95" y2="916.70" stroke="#555" stroke-width="0.9"/>
<line x1="444.68" y1="911.30" x2="444.68" y2="916.70" stroke="#555" stroke-width="0.9"/>
<line x1="452.40" y1="911.30" x2="452.40" y2="916.70" stroke="#555" stroke-width="0.9"/>
<line x1="460.13" y1="911.30" x2="460.13" y2="916.70" stroke="#555" stroke-width="0.9"/>
<line x1="467.86" y1="911.30" x2="467.86" y2="920.80" stroke="#000" stroke-width="1.8"/>
<line x1="475.59" y1="911.30" x2="475.59" y2="916.70" stroke="#555" stroke-width="0.9"/>
<line x1="483.32" y1="911.30" x2="483.32" y2="916.70" stroke="#555" stroke-width="0.9"/>
<line x1="491.04" y1="911.30" x2="491.04" y2="916.70" stroke="#555" stroke-width="0.9"/>
<line x1="498.77" y1="911.30" x2="498.77" y2="916.70" stroke="#555" stroke-width="0.9"/>
<line x1="506.50" y1="911.30" x2="506.50" y2="920.80" stroke="#000" stroke-width="1.8"/>
<line x1="514.23" y1="911.30" x2="514.23" y2="916.70" stroke="#555" stroke-width="0.9"/>
<path d="M112.37,521.20V911.30H514.23" fill="none" stroke="#000" stroke-width="1.8" stroke-linecap="square"/>
<text x="95.2" y="919.50" class="tl" text-anchor="end">0</text>
<text x="95.2" y="863.77" class="tl" text-anchor="end">0.002</text>
<text x="95.2" y="808.04" class="tl" text-anchor="end">0.004</text>
<text x="95.2" y="752.32" class="tl" text-anchor="end">0.006</text>
<text x="95.2" y="696.59" class="tl" text-anchor="end">0.008</text>
<text x="95.2" y="640.86" class="tl" text-anchor="end">0.01</text>
<text x="95.2" y="585.13" class="tl" text-anchor="end">0.012</text>
<text x="95.2" y="529.40" class="tl" text-anchor="end">0.014</text>
<text x="120.10" y="941.90" class="tl" text-anchor="middle">0</text>
<text x="158.74" y="941.90" class="tl" text-anchor="middle">2</text>
<text x="197.38" y="941.90" class="tl" text-anchor="middle">4</text>
<text x="236.02" y="941.90" class="tl" text-anchor="middle">6</text>
<text x="274.66" y="941.90" class="tl" text-anchor="middle">8</text>
<text x="313.30" y="941.90" class="tl" text-anchor="middle">10</text>
<text x="351.94" y="941.90" class="tl" text-anchor="middle">12</text>
<text x="390.58" y="941.90" class="tl" text-anchor="middle">14</text>
<text x="429.22" y="941.90" class="tl" text-anchor="middle">16</text>
<text x="467.86" y="941.90" class="tl" text-anchor="middle">18</text>
<text x="506.50" y="941.90" class="tl" text-anchor="middle">20</text>
<text x="313.3" y="967.70" class="ax" text-anchor="middle">Time</text>
<text x="0" y="0" class="eps" text-anchor="middle" transform="translate(32.6,716.35) rotate(-90)">&#949;</text>
<text x="471.5" y="528.85" class="lg">512<tspan class="sup" dx="0.5" dy="-10.5">3</tspan></text>
<text x="471.5" y="553.70" class="lg">64<tspan class="sup" dx="0.5" dy="-10.5">3</tspan></text>
<text x="471.5" y="578.20" class="lg">128<tspan class="sup" dx="0.5" dy="-10.5">3</tspan></text>
<text x="471.5" y="602.70" class="lg">256<tspan class="sup" dx="0.5" dy="-10.5">3</tspan></text>
<path d="M409.20,516.30L415.80,522.90L409.20,529.50L402.60,522.90Z" fill="none" stroke="#000" stroke-width="2.1" stroke-linejoin="round"/>
<line x1="363" y1="547.40" x2="455.2" y2="547.40" stroke="#1c16cc" stroke-width="2.3"/>
<line x1="363" y1="572.10" x2="455.2" y2="572.10" stroke="#12bb12" stroke-width="2.6" stroke-dasharray="9.6,3.6,2.3,3.6"/>
<line x1="363" y1="596.70" x2="455.2" y2="596.70" stroke="#c00a10" stroke-width="2.5"/>
<text x="-0.8" y="488" class="pl">(a)</text>
<text x="-0.8" y="996" class="pl">(b)</text>
</svg>
</body></html>
